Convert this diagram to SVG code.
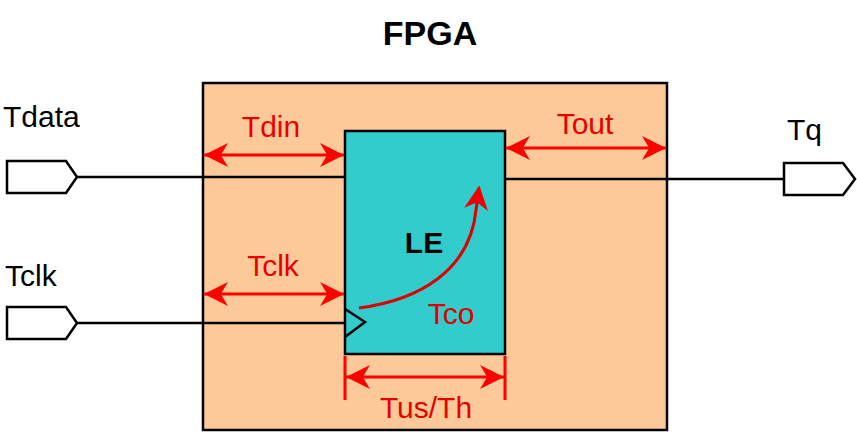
<svg xmlns="http://www.w3.org/2000/svg" width="857" height="432" viewBox="0 0 857 432">
<defs>
<style>
.t{font-family:"Liberation Sans",Arial,sans-serif;font-size:30px}
.r{fill:#e80000}
.w{stroke:#000;stroke-width:2.5;fill:none}
.d{stroke:#f00;stroke-width:3;fill:none}
.port{fill:#fff;stroke:#000;stroke-width:2.5}
</style>
<marker id="ah" viewBox="0 0 10 10" refX="10" refY="5" markerWidth="8" markerHeight="8" markerUnits="strokeWidth" orient="auto-start-reverse"><path d="M0,0 L10,5 L0,10 L3,5 Z" fill="#f00"/></marker>
<marker id="ac" viewBox="0 0 10 10" refX="9" refY="5" markerWidth="9" markerHeight="8" markerUnits="strokeWidth" orient="auto"><path d="M0,0 L10,5 L0,10 L3,5 Z" fill="#e00"/></marker>
</defs>
<text x="430" y="45" text-anchor="middle" style="font-family:'Liberation Sans',Arial,sans-serif;font-size:34px;font-weight:bold">FPGA</text>
<g id="fpga"><rect x="203" y="83" width="464" height="347" fill="#fdc998" stroke="#000" stroke-width="2.5"/></g>
<g id="le"><rect x="345" y="131" width="160" height="223" fill="#33cccc" stroke="#000" stroke-width="2.5"/>
<path class="w" d="M345,309 L365,322 L345,337"/>
<text x="424" y="253" text-anchor="middle" class="t" style="font-weight:bold;font-size:30px">LE</text></g>
<g id="connectors">
<path class="w" d="M77,177 H345 M77,323 H345 M505,179 H784"/>
<path class="d" d="M204,155 H344" marker-start="url(#ah)" marker-end="url(#ah)"/>
<path class="d" d="M204,294 H344" marker-start="url(#ah)" marker-end="url(#ah)"/>
<path class="d" d="M506,148 H666" marker-start="url(#ah)" marker-end="url(#ah)"/>
<path class="d" d="M346,377 H504" marker-start="url(#ah)" marker-end="url(#ah)"/>
<path class="d" d="M345,356 V400 M505,356 V400" stroke-width="2"/>
<path d="M359,308 C420,300 470,270 476,210 L479,188" stroke="#d00" stroke-width="3" fill="none" marker-end="url(#ac)"/>
</g>
<g id="tdata"><path class="port" d="M7,161 H66 L77,177 L66,193 H7 Z"/><text x="3" y="127" class="t">Tdata</text></g>
<g id="tclkp"><path class="port" d="M7,307 H66 L77,323 L66,339 H7 Z"/><text x="5" y="286" class="t">Tclk</text></g>
<g id="tq"><path class="port" d="M784,163 H843 L855,179 L843,195 H784 Z"/><text x="787" y="140" class="t">Tq</text></g>
<g id="labels">
<text x="271" y="137" text-anchor="middle" class="t r">Tdin</text>
<text x="273" y="276" text-anchor="middle" class="t r">Tclk</text>
<text x="585" y="134" text-anchor="middle" class="t r">Tout</text>
<text x="451" y="324" text-anchor="middle" class="t" fill="#d00">Tco</text>
<text x="426" y="418" text-anchor="middle" class="t r">Tus/Th</text>
</g>
</svg>
